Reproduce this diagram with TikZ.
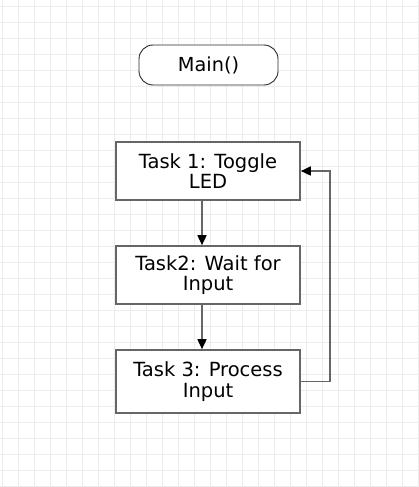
\documentclass[tikz,border=0pt]{standalone}
\usepackage{fontspec}
\setmainfont{DejaVu Sans}
\usetikzlibrary{arrows.meta}
\definecolor{gridc}{RGB}{236,236,236}
\definecolor{edgec}{RGB}{102,102,102}
\definecolor{termc}{RGB}{40,40,40}
\begin{document}
\begin{tikzpicture}[x=1pt,y=-1pt,
  taskbox/.style={draw=edgec, line width=1.6pt, fill=white, minimum width=184pt, inner sep=0pt,
    align=center, font=\fontsize{19.5}{20.7}\selectfont},
  termbox/.style={draw=termc, line width=0.9pt, fill=white, rounded corners=14pt,
    minimum width=139pt, minimum height=40pt, inner sep=0pt, font=\fontsize{19.3}{20.7}\selectfont},
  conn/.style={draw=edgec, line width=1.6pt, -{Triangle[length=10pt,width=9pt,color=black,fill=black]}}]
\useasboundingbox (0,0) rectangle (419,487);
\fill[white] (0,0) rectangle (419,487);
\foreach \k in {0,...,26} \draw[gridc, line width=1pt] (2.7+16*\k,0) -- (2.7+16*\k,487);
\foreach \k in {0,...,30} \draw[gridc, line width=1pt] (0,6.7+16*\k) -- (419,6.7+16*\k);
\node[termbox] (main) at (208.5,65) {Main()};
\node[taskbox, minimum height=58pt] (t1) at (208,171) {Task 1: Toggle\\LED};
\node[taskbox, minimum height=58pt] (t2) at (208,275) {Task2: Wait for\\Input};
\node[taskbox, minimum height=63pt] (t3) at (208,381.5) {Task 3: Process\\Input};
\coordinate (ax) at (202,0);
\coordinate (lx) at (330,0);
\draw[conn] (t1.south -| ax) -- (t2.north -| ax);
\draw[conn] (t2.south -| ax) -- (t3.north -| ax);
\draw[conn] (t3.east) -| (lx |- t3.east) |- (t1.east);
\end{tikzpicture}
\end{document}
